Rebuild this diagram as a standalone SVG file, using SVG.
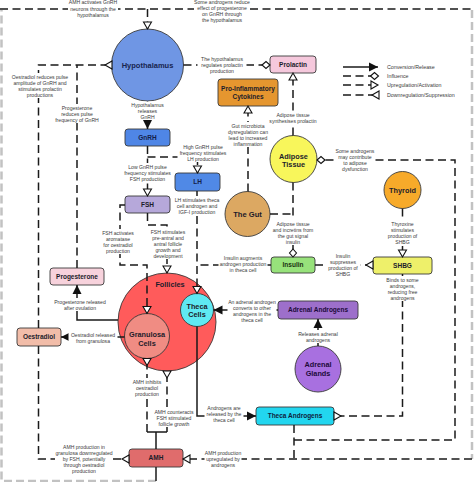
<svg xmlns="http://www.w3.org/2000/svg" width="474" height="482" viewBox="0 0 474 482">
<style>
.ln{fill:none;stroke:#1a1a1a;stroke-width:1.5}
.d{stroke-dasharray:8 4.5}
.fr{fill:none;stroke:#c2c2c2;stroke-width:2.5;stroke-dasharray:8 4}
.bg{fill:#fff}
.lb{font-family:"Liberation Sans",Arial,sans-serif;font-size:5.1px;fill:#3a3a3a;text-anchor:middle}
.lg{font-family:"Liberation Sans",Arial,sans-serif;font-size:5.3px;fill:#3a3a3a}
.nd{stroke:#3a3a3a;stroke-width:0.9}
.nt{font-family:"Liberation Sans",Arial,sans-serif;font-weight:bold;font-size:6.5px;text-anchor:middle;fill:#1c1c2a}
.ct{font-size:7.3px}
</style>
<defs>
<marker id="arr" markerUnits="userSpaceOnUse" markerWidth="10" markerHeight="10" refX="9" refY="4.5" orient="auto" overflow="visible"><path d="M0,0 L9,4.5 L0,9 z" fill="#111" stroke="none"/></marker>
<marker id="up" markerUnits="userSpaceOnUse" markerWidth="10" markerHeight="10" refX="7.5" refY="4.5" orient="auto" overflow="visible"><path d="M0.5,0.5 L7.5,4.5 L0.5,8.5 z" fill="#fff" stroke="#111" stroke-width="1.1" stroke-dasharray="none"/></marker>
<marker id="dn" markerUnits="userSpaceOnUse" markerWidth="10" markerHeight="10" refX="7.5" refY="4.5" orient="auto" overflow="visible"><path d="M7.5,0.5 L0.5,4.5 L7.5,8.5 z" fill="#fff" stroke="#111" stroke-width="1.1" stroke-dasharray="none"/></marker>
<marker id="dia" markerUnits="userSpaceOnUse" markerWidth="10" markerHeight="10" refX="8.5" refY="4" orient="auto" overflow="visible"><path d="M0.5,4 L4.5,0.5 L8.5,4 L4.5,7.5 z" fill="#fff" stroke="#111" stroke-width="1.1" stroke-dasharray="none"/></marker>
</defs>

<g id="nodes">
<g id="follicles"><circle cx="167" cy="322" r="49" fill="#ff5b5b" class="nd"/><text class="nt ct" x="170" y="286.5">Follicles</text></g>
<g id="hypothalamus"><circle cx="147.5" cy="65" r="36" fill="#6f96e4" class="nd"/><text class="nt" style="font-size:7.5px;fill:#17244f" x="147.5" y="67.7">Hypothalamus</text></g>
<g id="prolactin"><rect x="270" y="56" width="46" height="17" rx="3" fill="#f5c8dc" class="nd"/><text class="nt" x="293" y="66.8">Prolactin</text></g>
<g id="cytokines"><rect x="218" y="79" width="60" height="27" rx="3" fill="#e5962f" class="nd"/><text class="nt" x="248" y="91.3">Pro-Inflammatory</text><text class="nt" x="248" y="98.8">Cytokines</text></g>
<g id="adipose"><circle cx="293.5" cy="159" r="23.5" fill="#f8f65b" class="nd"/><text class="nt ct" x="293.5" y="158.5">Adipose</text><text class="nt ct" x="293.5" y="166.5">Tissue</text></g>
<g id="gut"><circle cx="247.5" cy="214" r="22.5" fill="#dca862" class="nd"/><text class="nt" style="font-size:7.6px" x="247.5" y="216.8">The Gut</text></g>
<g id="thyroid"><circle cx="402.5" cy="190" r="18.5" fill="#f7aa2a" class="nd"/><text class="nt ct" x="402.5" y="192.6">Thyroid</text></g>
<g id="gnrh"><rect x="125" y="129" width="45" height="17" rx="3" fill="#4f86e6" class="nd"/><text class="nt" style="fill:#13204a" x="147.5" y="139.8">GnRH</text></g>
<g id="lh"><rect x="175" y="173" width="45" height="18" rx="3" fill="#5089e6" class="nd"/><text class="nt" style="fill:#13204a" x="197.5" y="184.3">LH</text></g>
<g id="fsh"><rect x="125" y="196" width="45" height="17" rx="3" fill="#b6a8da" class="nd"/><text class="nt" x="147.5" y="206.8">FSH</text></g>
<g id="insulin"><rect x="271" y="257" width="44" height="16" rx="3" fill="#97e27b" class="nd"/><text class="nt" style="fill:#1a3010" x="293" y="267.3">Insulin</text></g>
<g id="shbg"><rect x="373" y="257" width="59" height="17" rx="3" fill="#eef06a" class="nd"/><text class="nt" x="402.5" y="267.8">SHBG</text></g>
<g id="adrenal-androgens"><rect x="278" y="301" width="80" height="18" rx="3" fill="#9d6fcb" class="nd"/><text class="nt" style="fill:#200a3a" x="318" y="312.3">Adrenal Androgens</text></g>
<g id="adrenal-glands"><circle cx="318" cy="369" r="23" fill="#a870e0" class="nd"/><text class="nt ct" style="fill:#200a3a" x="318" y="366.5">Adrenal</text><text class="nt ct" style="fill:#200a3a" x="318" y="375.5">Glands</text></g>
<g id="progesterone"><rect x="50" y="268" width="54" height="17" rx="3" fill="#f7d2dc" class="nd"/><text class="nt" x="77" y="278.8">Progesterone</text></g>
<g id="oestradiol"><rect x="17" y="328" width="44" height="18" rx="3" fill="#f2bda9" class="nd"/><text class="nt" x="39" y="339.3">Oestradiol</text></g>
<g id="theca-cells"><circle cx="197" cy="310" r="16.5" fill="#5fe9f2" class="nd"/><text class="nt ct" x="197" y="308.5">Theca</text><text class="nt ct" x="197" y="316.5">Cells</text></g>
<g id="granulosa"><circle cx="147" cy="336" r="22.5" fill="#f08c83" class="nd"/><text class="nt ct" x="147" y="336.5">Granulosa</text><text class="nt ct" x="147" y="345.5">Cells</text></g>
<g id="theca-androgens"><rect x="256" y="407" width="78" height="18" rx="3" fill="#22d6ef" class="nd"/><text class="nt" style="fill:#0e1e40" x="295" y="418.3">Theca Androgens</text></g>
<g id="amh"><rect x="129" y="449" width="54" height="18" rx="3" fill="#e06c6c" class="nd"/><text class="nt" x="156" y="460.3">AMH</text></g>
</g>

<g id="connectors">
<path class="fr" d="M156,481 L1.5,481 L1.5,10"/>
<path class="fr" d="M472,10 L472,459"/>
<path class="ln" d="M156,467 L156,481"/>
<path class="ln d" d="M0,9 L472,9"/>
<path class="ln d" d="M147.5,9 L147.5,29" marker-end="url(#up)"/>
<path class="ln" d="M147.5,101 L147.5,129" marker-end="url(#arr)"/>
<path class="ln d" d="M147.5,146 L147.5,196" marker-end="url(#up)"/>
<path class="ln d" d="M147.5,157 L197.5,157 L197.5,173" marker-end="url(#up)"/>
<path class="ln d" d="M197,191 L197,293.5" marker-end="url(#up)"/>
<path class="ln d" d="M271,265 L197,265"/>
<path class="ln d" d="M125,205 L120,205 L120,265 L147,265 L147,313.5" marker-end="url(#up)"/>
<path class="ln d" d="M147.5,213 L147.5,225 L167,225 L167,273" marker-end="url(#up)"/>
<path class="ln d" d="M183.5,65 L270,65" marker-end="url(#dia)"/>
<path class="ln d" d="M293,135.5 L293,73" marker-end="url(#up)"/>
<path class="ln d" d="M248,191.5 L248,106" marker-end="url(#up)"/>
<path class="ln d" d="M293,182.5 L293,257" marker-end="url(#dia)"/>
<path class="ln d" d="M270,214 L293,214"/>
<path class="ln d" d="M315,265 L373,265" marker-end="url(#dn)"/>
<path class="ln d" d="M402.5,208.5 L402.5,257" marker-end="url(#up)"/>
<path class="ln d" d="M402.5,274 L402.5,416 L334,416" marker-end="url(#dn)"/>
<path class="ln d" d="M294,440 L455,440 L455,160 L317,160" marker-end="url(#dia)"/>
<path class="ln d" d="M294,425 L294,459"/>
<path class="ln d" d="M472,459 L183,459" marker-end="url(#up)"/>
<path class="ln" d="M197,326.5 L197,416 L256,416" marker-end="url(#arr)"/>
<path class="ln" d="M278,310 L213.5,310" marker-end="url(#arr)"/>
<path class="ln" d="M318,346 L318,319" marker-end="url(#arr)"/>
<path class="ln" d="M118,320 L77,320 L77,285" marker-end="url(#arr)"/>
<path class="ln" d="M124.5,337 L61,337" marker-end="url(#arr)"/>
<path class="ln d" d="M38.5,328 L38.5,65 L112,65" marker-end="url(#dn)"/>
<path class="ln d" d="M77,268 L77,65"/>
<path class="ln d" d="M38.5,346 L38.5,459 L129,459" marker-end="url(#dn)"/>
<path class="ln" d="M156,449 L156,432 M147,432 L167,432"/>
<path class="ln d" d="M147,432 L147,358.5" marker-end="url(#dn)"/>
<path class="ln d" d="M167,432 L167,371" marker-end="url(#dn)"/>

<g id="legend">
<path class="ln" d="M343,67 L378,67" marker-end="url(#arr)"/>
<path class="ln d" d="M343,76 L378.5,76" marker-end="url(#dia)"/>
<path class="ln d" d="M343,85 L378,85" marker-end="url(#up)"/>
<path class="ln d" d="M343,95 L379,95" marker-end="url(#dn)"/>
<text class="lg" x="387" y="69">Conversion/Release</text>
<text class="lg" x="387" y="78">Influence</text>
<text class="lg" x="387" y="87">Upregulation/Activation</text>
<text class="lg" x="387" y="97">Downregulation/Suppression</text>
</g>

<g id="labels">
<rect class="bg" x="68" y="-1" width="50" height="19"/>
<text class="lb" x="93"><tspan x="93" y="4">AMH activates GnRH</tspan><tspan x="93" y="10.5">neurons through the</tspan><tspan x="93" y="16.8">hypothalamus</tspan></text>
<rect class="bg" x="194" y="-1.5" width="56" height="25"/>
<text class="lb"><tspan x="222" y="3.8">Some androgens reduce</tspan><tspan x="222" y="9.8">effect of progesterone</tspan><tspan x="222" y="15.8">on GnRH through</tspan><tspan x="222" y="21.8">the hypothalamus</tspan></text>
<rect class="bg" x="197.5" y="55" width="49" height="19"/>
<text class="lb"><tspan x="222" y="60.8">The hypothalamus</tspan><tspan x="222" y="66.8">regulates prolactin</tspan><tspan x="222" y="72.8">production</tspan></text>
<rect class="bg" x="10" y="73" width="60" height="25"/>
<text class="lb"><tspan x="40" y="78.8">Oestradiol reduces pulse</tspan><tspan x="40" y="84.8">amplitude of GnRH and</tspan><tspan x="40" y="90.8">stimulates prolactin</tspan><tspan x="40" y="96.8">productions</tspan></text>
<rect class="bg" x="55" y="104" width="44" height="19"/>
<text class="lb"><tspan x="77" y="109.8">Progesterone</tspan><tspan x="77" y="115.8">reduces pulse</tspan><tspan x="77" y="121.8">frequency of GnRH</tspan></text>
<rect class="bg" x="131.5" y="101.5" width="32" height="18.5"/>
<text class="lb"><tspan x="147.5" y="106.8">Hypothalamus</tspan><tspan x="147.5" y="112.8">releases</tspan><tspan x="147.5" y="118.8">GnRH</tspan></text>
<rect class="bg" x="177.5" y="143" width="51" height="19"/>
<text class="lb"><tspan x="203" y="148.8">High GnRH pulse</tspan><tspan x="203" y="154.8">frequency stimulates</tspan><tspan x="203" y="160.8">LH production</tspan></text>
<rect class="bg" x="122" y="163" width="51" height="19"/>
<text class="lb"><tspan x="147.5" y="168.8">Low GnRH pulse</tspan><tspan x="147.5" y="174.8">frequency stimulates</tspan><tspan x="147.5" y="180.8">FSH production</tspan></text>
<rect class="bg" x="172.5" y="196" width="49" height="19"/>
<text class="lb"><tspan x="197" y="201.8">LH stimulates theca</tspan><tspan x="197" y="207.8">cell androgen and</tspan><tspan x="197" y="213.8">IGF-I production</tspan></text>
<rect class="bg" x="99.5" y="229" width="37" height="25"/>
<text class="lb"><tspan x="118" y="234.8">FSH activates</tspan><tspan x="118" y="240.8">aromatase</tspan><tspan x="118" y="246.8">for oestradiol</tspan><tspan x="118" y="252.8">production</tspan></text>
<rect class="bg" x="148.5" y="228" width="39" height="31"/>
<text class="lb"><tspan x="168" y="233.8">FSH stimulates</tspan><tspan x="168" y="239.8">pre-antral and</tspan><tspan x="168" y="245.8">antral follicle</tspan><tspan x="168" y="251.8">growth and</tspan><tspan x="168" y="257.8">development</tspan></text>
<rect class="bg" x="226" y="122" width="44" height="25"/>
<text class="lb"><tspan x="248" y="127.8">Gut microbiota</tspan><tspan x="248" y="133.8">dysregulation can</tspan><tspan x="248" y="139.8">lead to increased</tspan><tspan x="248" y="145.8">inflammation</tspan></text>
<rect class="bg" x="266.5" y="111" width="53" height="13"/>
<text class="lb"><tspan x="293" y="116.8">Adipose tissue</tspan><tspan x="293" y="122.8">synthesises prolactin</tspan></text>
<rect class="bg" x="336.5" y="147" width="37" height="25"/>
<text class="lb"><tspan x="355" y="152.8">Some androgens</tspan><tspan x="355" y="158.8">may contribute</tspan><tspan x="355" y="164.8">to adipose</tspan><tspan x="355" y="170.8">dysfunction</tspan></text>
<rect class="bg" x="384.5" y="220" width="36" height="25"/>
<text class="lb"><tspan x="402.5" y="225.8">Thyroxine</tspan><tspan x="402.5" y="231.8">stimulates</tspan><tspan x="402.5" y="237.8">production of</tspan><tspan x="402.5" y="243.8">SHBG</tspan></text>
<rect class="bg" x="270" y="220" width="46" height="25"/>
<text class="lb"><tspan x="293" y="225.8">Adipose tissue</tspan><tspan x="293" y="231.8">and incretins from</tspan><tspan x="293" y="237.8">the gut signal</tspan><tspan x="293" y="243.8">insulin</tspan></text>
<rect class="bg" x="218.5" y="254" width="49" height="19"/>
<text class="lb"><tspan x="243" y="259.8">Insulin augments</tspan><tspan x="243" y="265.8">androgen production</tspan><tspan x="243" y="271.8">in theca cell</tspan></text>
<rect class="bg" x="325.5" y="252" width="35" height="25"/>
<text class="lb"><tspan x="343" y="257.8">Insulin</tspan><tspan x="343" y="263.8">suppresses</tspan><tspan x="343" y="269.8">production of</tspan><tspan x="343" y="275.8">SHBG</tspan></text>
<rect class="bg" x="384.5" y="276" width="36" height="25"/>
<text class="lb"><tspan x="402.5" y="281.8">Binds to some</tspan><tspan x="402.5" y="287.8">androgens,</tspan><tspan x="402.5" y="293.8">reducing free</tspan><tspan x="402.5" y="299.8">androgens</tspan></text>
<rect class="bg" x="227.5" y="298" width="49" height="25"/>
<text class="lb"><tspan x="252" y="303.8">An adrenal androgen</tspan><tspan x="252" y="309.8">converts to other</tspan><tspan x="252" y="315.8">androgens in the</tspan><tspan x="252" y="321.8">theca cell</tspan></text>
<rect class="bg" x="297" y="330" width="42" height="13"/>
<text class="lb"><tspan x="318" y="335.8">Releases adrenal</tspan><tspan x="318" y="341.8">androgens</tspan></text>
<rect class="bg" x="53.5" y="298" width="53" height="13"/>
<text class="lb"><tspan x="80" y="303.8">Progesterone released</tspan><tspan x="80" y="309.8">after ovulation</tspan></text>
<rect class="bg" x="68.5" y="331" width="49" height="13"/>
<text class="lb"><tspan x="93" y="336.8">Oestradiol released</tspan><tspan x="93" y="342.8">from granulosa</tspan></text>
<rect class="bg" x="131" y="378" width="32" height="19"/>
<text class="lb"><tspan x="147" y="383.8">AMH inhibits</tspan><tspan x="147" y="389.8">oestradiol</tspan><tspan x="147" y="395.8">production</tspan></text>
<rect class="bg" x="154.5" y="408" width="39" height="19"/>
<text class="lb"><tspan x="174" y="413.8">AMH counteracts</tspan><tspan x="174" y="419.8">FSH stimulated</tspan><tspan x="174" y="425.8">follicle growth</tspan></text>
<rect class="bg" x="204.5" y="404" width="39" height="19"/>
<text class="lb"><tspan x="224" y="409.8">Androgens are</tspan><tspan x="224" y="415.8">released by the</tspan><tspan x="224" y="421.8">theca cell</tspan></text>
<rect class="bg" x="55" y="443" width="58" height="31"/>
<text class="lb"><tspan x="84" y="448.8">AMH production in</tspan><tspan x="84" y="454.8">granulosa downregulated</tspan><tspan x="84" y="460.8">by FSH, potentially</tspan><tspan x="84" y="466.8">through oestradiol</tspan><tspan x="84" y="472.8">production</tspan></text>
<rect class="bg" x="204.5" y="449" width="37" height="19"/>
<text class="lb"><tspan x="223" y="454.8">AMH production</tspan><tspan x="223" y="460.8">upregulated by</tspan><tspan x="223" y="466.8">androgens</tspan></text>
</g>
</g>
</svg>
